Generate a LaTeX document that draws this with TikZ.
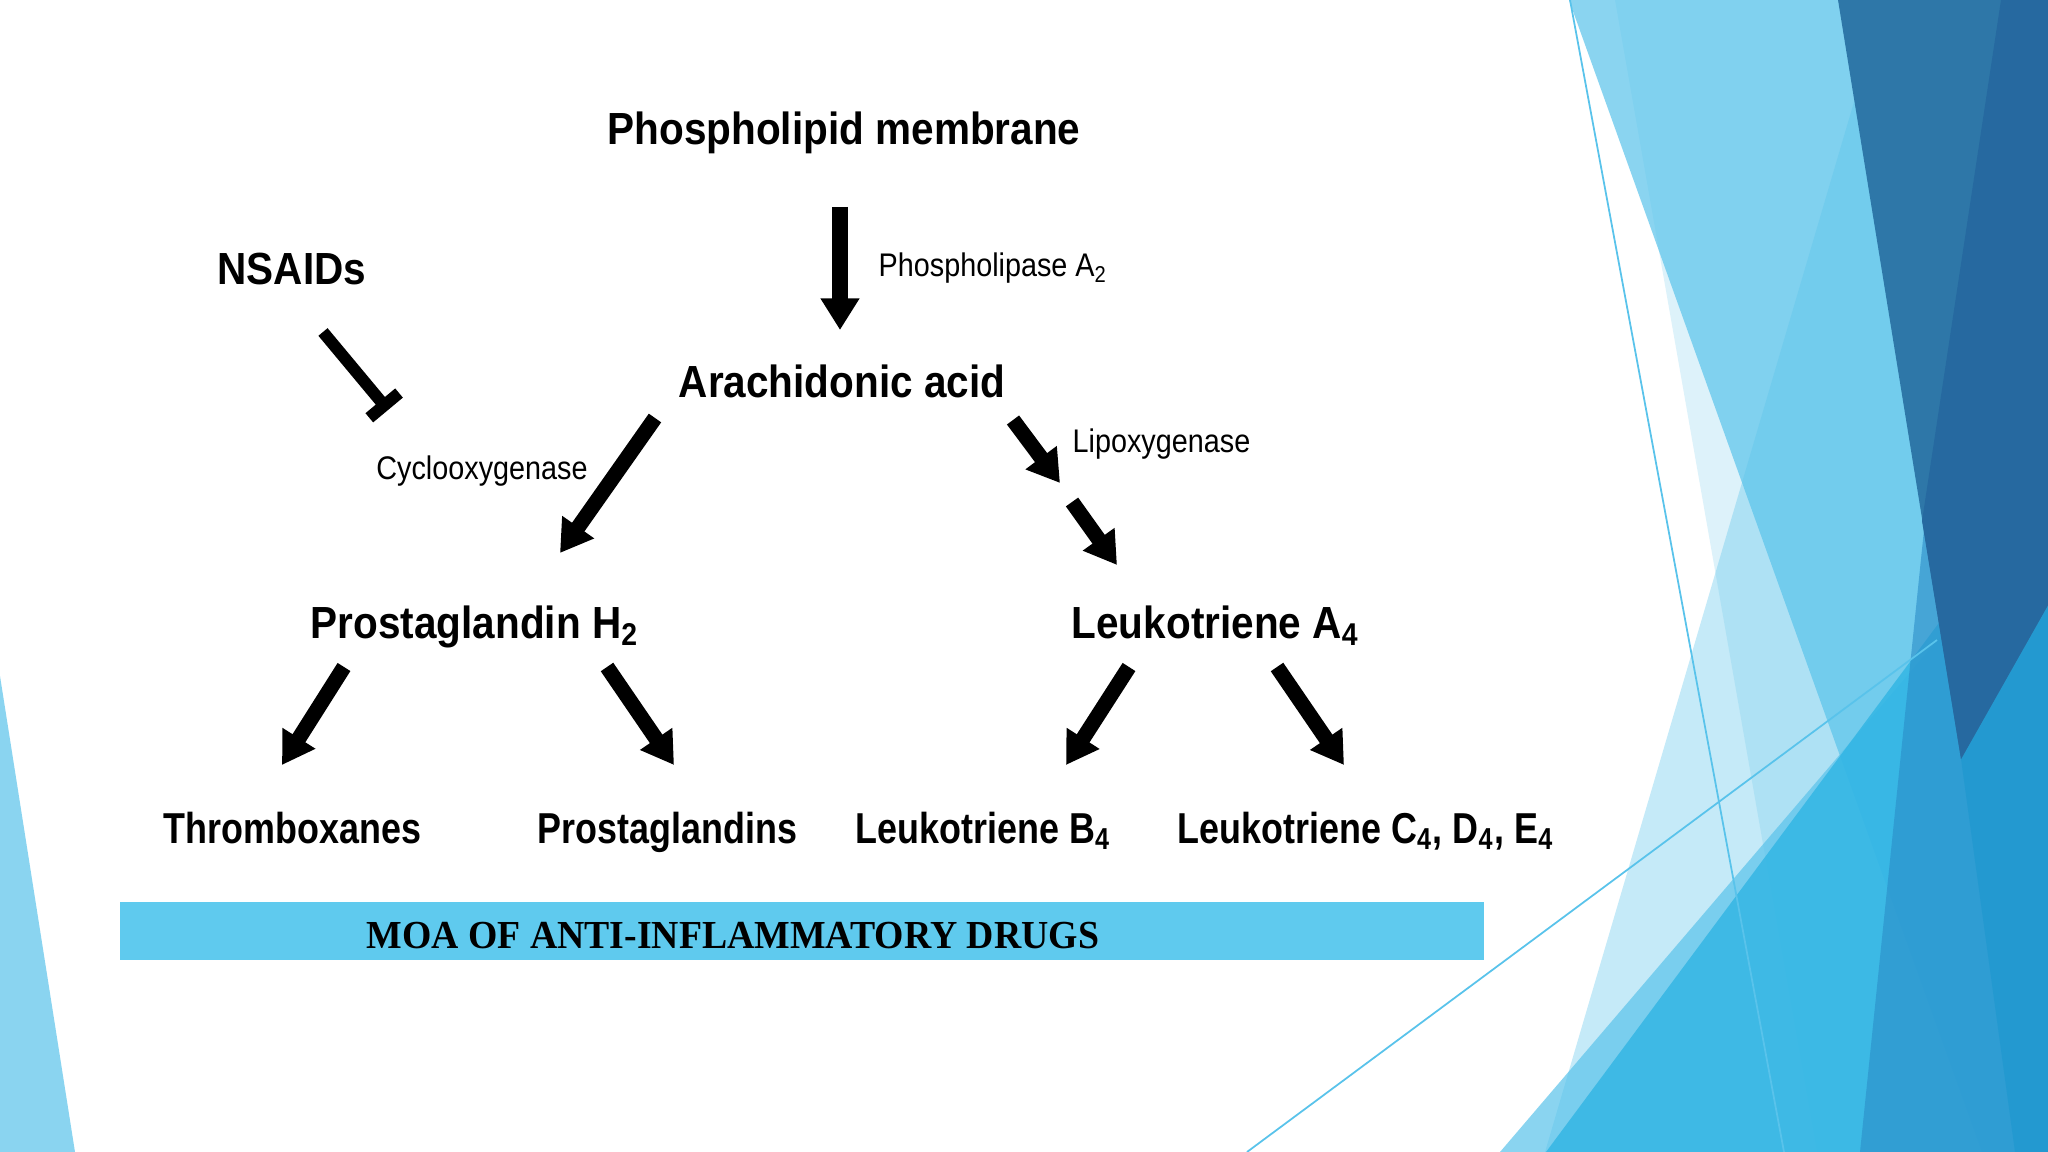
\documentclass[tikz,border=0pt]{standalone}
\usepackage{fontspec}
\usepackage{tikz}
\usetikzlibrary{positioning, arrows.meta}
\setmainfont{Liberation Sans}
\newfontfamily\mainlbl{Liberation Sans}[FakeStretch=0.9]
\newfontfamily\prodlbl{Liberation Sans}[FakeStretch=0.83]
\newfontfamily\enzlbl{Liberation Sans}[FakeStretch=0.88]
\newfontfamily\ttlfont{Liberation Serif}[FakeStretch=0.95]

\definecolor{facetsky}{HTML}{59C3EB}
\definecolor{facetpale}{HTML}{DDF2FA}
\definecolor{facetmid}{HTML}{2BB3E3}
\definecolor{facetdeep}{HTML}{2A8CC8}
\definecolor{facetdark}{HTML}{2E77A8}
\definecolor{facetdarker}{HTML}{2669A0}
\definecolor{facetteal}{HTML}{1B97CE}
\definecolor{barblue}{HTML}{5FCAEE}

\begin{document}
\begin{tikzpicture}[
  x=0.01cm, y=-0.01cm,
  metab/.style={inner sep=0pt, font=\mainlbl\bfseries\fontsize{12.8pt}{14pt}\selectfont},
  prod/.style={inner sep=0pt, font=\prodlbl\bfseries\fontsize{12.3pt}{14pt}\selectfont},
  enzyme/.style={inner sep=0pt, font=\enzlbl\fontsize{9.3pt}{11pt}\selectfont},
  fat/.style={line width=4.3pt, -{Triangle[length=9pt,width=10.5pt]}},
  inhib/.style={line width=3.4pt, -{Bar[width=11pt]}},
  facetline/.style={draw=facetsky, line width=0.5pt}
]
\useasboundingbox (0,0) rectangle (2048,1152);
\fill[white] (0,0) rectangle (2048,1152);

% Background facets
\fill[facetpale] (1615,0) -- (2048,0) -- (2048,1152) -- (1817,1152) -- cycle;
\fill[facetsky, opacity=0.7] (1569,0) -- (2048,0) -- (2048,1152) -- (1982,1152) -- cycle;
\fill[facetsky, opacity=0.35] (1884,0) -- (2048,0) -- (2048,1152) -- (1545,1152) -- cycle;
\fill[facetsky, opacity=0.7] (1500,1152) -- (2048,511) -- (2048,1152) -- cycle;
\fill[facetmid, opacity=0.75] (1546,1152) -- (2048,476) -- (2048,1152) -- cycle;
\fill[facetdeep, opacity=0.6] (1925,520) -- (2048,440) -- (2048,1152) -- (1860,1152) -- cycle;
\fill[facetteal, opacity=0.6] (1961,759) -- (2048,605) -- (2048,1152) -- (2015,1152) -- cycle;
\fill[facetdark] (1838,0) -- (2048,0) -- (2048,605) -- (1961,759) -- cycle;
\fill[facetdarker] (2001,0) -- (2048,0) -- (2048,605) -- (1961,759) -- (1922,521) -- cycle;
\fill[facetsky, opacity=0.7] (0,676) -- (75,1152) -- (0,1152) -- cycle;
\draw[facetline] (1570,0) -- (1784,1152);
\draw[facetline] (1247,1152) -- (1937,640);

% Title bar
\fill[barblue] (120,902) rectangle (1484,960);
\node[inner sep=0pt, anchor=base west, font=\ttlfont\bfseries\fontsize{11.3pt}{13pt}\selectfont] (title) at (366,948) {MOA OF ANTI-INFLAMMATORY DRUGS};

% Top
\node[metab, anchor=base] (pm) at (844,145) {Phospholipid membrane};
\node[enzyme, anchor=base west] (pla) at (878,277) {Phospholipase A\textsubscript{2}};
\node[metab, anchor=base] (nsaid) at (292,285) {NSAIDs};
\node[metab, anchor=base] (aa) at (842,398) {Arachidonic acid};

% Enzymes
\node[enzyme, anchor=base] (cox) at (482,480) {Cyclooxygenase};
\node[enzyme, anchor=base west] (lox) at (1072,453) {Lipoxygenase};

% Intermediates
\node[metab, anchor=base west] (pgh) at (310,638) {Prostaglandin H\textsubscript{2}};
\node[metab, anchor=base west] (lta) at (1071,638) {Leukotriene A\textsubscript{4}};

% Products
\node[prod, anchor=base west] (tx) at (163,843) {Thromboxanes};
\node[prod, anchor=base west] (pg) at (537,843) {Prostaglandins};
\node[prod, anchor=base west] (ltb) at (855,843) {Leukotriene B\textsubscript{4}};
\node[prod, anchor=base west] (ltc) at (1177,843) {Leukotriene C\textsubscript{4}, D\textsubscript{4}, E\textsubscript{4}};

% Arrow ends
\coordinate (pm-s) at (840,207);   \coordinate (aa-n) at (840,330);
\coordinate (aa-sw) at (655,418);  \coordinate (pgh-n) at (560,553);
\coordinate (aa-se) at (1013,420); \coordinate (lox-a) at (1060,483);
\coordinate (lox-b) at (1072,502); \coordinate (lta-n) at (1117,565);
\coordinate (pgh-sw) at (344,667); \coordinate (tx-n) at (282,765);
\coordinate (pgh-se) at (607,667); \coordinate (pg-n) at (674,765);
\coordinate (lta-sw) at (1129,667); \coordinate (ltb-n) at (1066,765);
\coordinate (lta-se) at (1277,667); \coordinate (ltc-n) at (1344,765);
\coordinate (nsaid-s) at (323,332); \coordinate (cox-n) at (388,410);

% Edges
\draw[fat] (pm-s) -- (aa-n);
\draw[fat] (aa-sw) -- (pgh-n);
\draw[fat] (aa-se) -- (lox-a);
\draw[fat] (lox-b) -- (lta-n);
\draw[fat] (pgh-sw) -- (tx-n);
\draw[fat] (pgh-se) -- (pg-n);
\draw[fat] (lta-sw) -- (ltb-n);
\draw[fat] (lta-se) -- (ltc-n);
\draw[inhib] (nsaid-s) -- (cox-n);

\end{tikzpicture}
\end{document}
